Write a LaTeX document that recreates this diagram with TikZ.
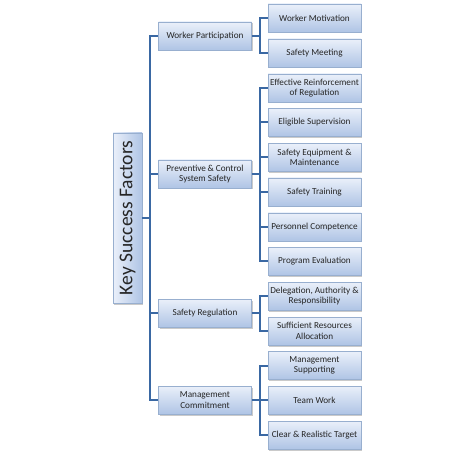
\documentclass[tikz,border=0pt]{standalone}
\usepackage{fontspec}
\setmainfont{Carlito}
\usetikzlibrary{shadows}
\definecolor{linec}{HTML}{3A68A3}
\definecolor{boxtop}{HTML}{EAF0FA}
\definecolor{boxbot}{HTML}{AFC4E5}
\definecolor{boxline}{HTML}{98AFCF}
\begin{document}
\begin{tikzpicture}[x=1pt,y=-1pt,
  box/.style={draw=boxline, line width=0.6pt, top color=boxtop, bottom color=boxbot,
    minimum width=93pt, minimum height=28pt, inner sep=0.5pt, align=center,
    font=\fontsize{9.2}{10.6}\selectfont, text=black!85,
    drop shadow={shadow xshift=1.2pt, shadow yshift=-1.5pt, opacity=0.35, fill=black!60}},
  rootbox/.style={draw=boxline, line width=0.6pt, left color=boxtop, right color=boxbot,
    minimum width=29pt, minimum height=170pt, inner sep=0pt,
    drop shadow={shadow xshift=1.2pt, shadow yshift=-1.5pt, opacity=0.35, fill=black!60}},
  conn/.style={draw=linec, line width=2pt}]
\useasboundingbox (0,0) rectangle (474,457);
% root
\node[rootbox] (root) at (127.5,218) {};
\node[rotate=90, font=\fontsize{19.5}{22}\selectfont, text=black!85] (roottext) at (root.center) {Key Success Factors};
% level 1
\node[box] (wp) at (205,36) {Worker Participation};
\node[box] (pc) at (205,174) {Preventive\,\& Control\\System Safety};
\node[box] (sr) at (205,313) {Safety Regulation};
\node[box] (mc) at (205,400) {Management\\Commitment};
% level 2
\node[box] (wm) at (314.5,18) {Worker Motivation};
\node[box] (sm) at (314.5,53) {Safety Meeting};
\node[box] (er) at (314.5,88) {Effective Reinforcement\\of Regulation};
\node[box] (es) at (314.5,122.5) {Eligible Supervision};
\node[box] (se) at (314.5,157.5) {Safety Equipment \&\\Maintenance};
\node[box] (st) at (314.5,192) {Safety Training};
\node[box] (pe) at (314.5,227) {Personnel Competence};
\node[box] (pv) at (314.5,261.5) {Program Evaluation};
\node[box] (da) at (314.5,296) {Delegation, Authority \&\\Responsibility};
\node[box] (sa) at (314.5,331) {Sufficient Resources\\Allocation};
\node[box] (ms) at (314.5,365.5) {Management\\Supporting};
\node[box] (tw) at (314.5,400) {Team Work};
\node[box] (cr) at (314.5,435) {Clear \& Realistic Target};
% trunk
\coordinate (t0) at (150,218);
\draw[conn] (root.east |- t0) -- (t0);
\draw[conn] (wp.west) -| (t0);
\draw[conn] (pc.west) -| (t0);
\draw[conn] (sr.west) -| (t0);
\draw[conn] (mc.west) -| (t0);
% groups
\coordinate (b1) at (260,36);
\coordinate (b2) at (260,174);
\coordinate (b3) at (260,313);
\coordinate (b4) at (260,400);
\draw[conn] (wp.east) -- (b1);
\draw[conn] (wm.west) -| (b1) |- (sm.west);
\draw[conn] (pc.east) -- (b2);
\draw[conn] (er.west) -| (b2) |- (pv.west);
\foreach \n in {es,se,st,pe} \draw[conn] (\n.west) -- (\n.west -| b2);
\draw[conn] (sr.east) -- (b3);
\draw[conn] (da.west) -| (b3) |- (sa.west);
\draw[conn] (mc.east) -- (b4);
\draw[conn] (ms.west) -| (b4) |- (cr.west);
\draw[conn] (tw.west) -- (b4);
\end{tikzpicture}
\end{document}
